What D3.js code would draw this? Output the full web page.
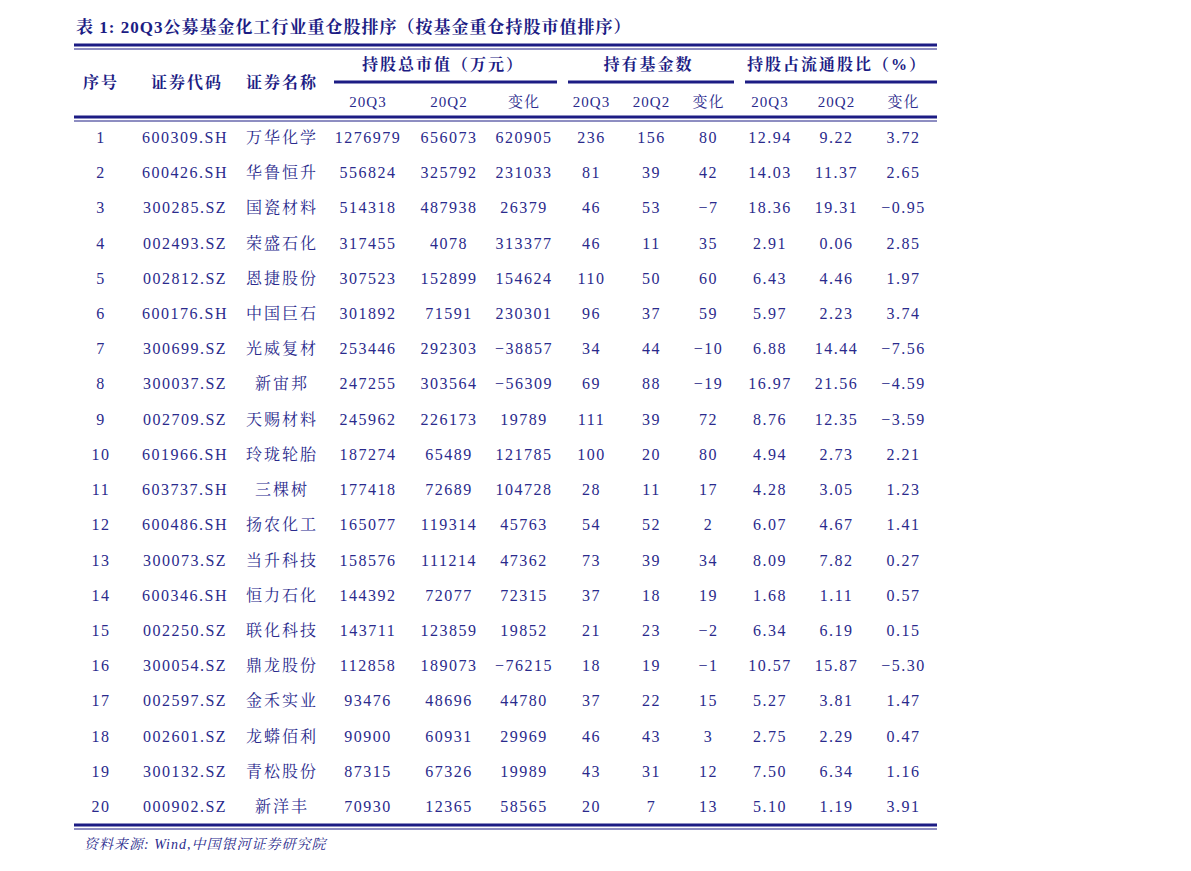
<!DOCTYPE html><html><head><meta charset="utf-8"><script src="https://cdn.jsdelivr.net/npm/d3@7"></script>
<style>body{margin:0;background:#fff}</style></head><body><svg id="c" width="1191" height="871"></svg>
<script>
const codes=["600309.SH","600426.SH","300285.SZ","002493.SZ","002812.SZ","600176.SH","300699.SZ","300037.SZ","002709.SZ","601966.SH","603737.SH","600486.SH","300073.SZ","600346.SH","002250.SZ","300054.SZ","002597.SZ","002601.SZ","300132.SZ","000902.SZ"];
const names=["万华化学","华鲁恒升","国瓷材料","荣盛石化","恩捷股份","中国巨石","光威复材","新宙邦","天赐材料","玲珑轮胎","三棵树","扬农化工","当升科技","恒力石化","联化科技","鼎龙股份","金禾实业","龙蟒佰利","青松股份","新洋丰"];
const mv3=[1276979,556824,514318,317455,307523,301892,253446,247255,245962,187274,177418,165077,158576,144392,143711,112858,93476,90900,87315,70930];
const mv2=[656073,325792,487938,4078,152899,71591,292303,303564,226173,65489,72689,119314,111214,72077,123859,189073,48696,60931,67326,12365];
const mvc=[620905,231033,26379,313377,154624,230301,-38857,-56309,19789,121785,104728,45763,47362,72315,19852,-76215,44780,29969,19989,58565];
const fn3=[236,81,46,46,110,96,34,69,111,100,28,54,73,37,21,18,37,46,43,20];
const fn2=[156,39,53,11,50,37,44,88,39,20,11,52,39,18,23,19,22,43,31,7];
const fnc=[80,42,-7,35,60,59,-10,-19,72,80,17,2,34,19,-2,-1,15,3,12,13];
const pc3=["12.94","14.03","18.36","2.91","6.43","5.97","6.88","16.97","8.76","4.94","4.28","6.07","8.09","1.68","6.34","10.57","5.27","2.75","7.50","5.10"];
const pc2=["9.22","11.37","19.31","0.06","4.46","2.23","14.44","21.56","12.35","2.73","3.05","4.67","7.82","1.11","6.19","15.87","3.81","2.29","6.34","1.19"];
const pcc=["3.72","2.65","-0.95","2.85","1.97","3.74","-7.56","-4.59","-3.59","2.21","1.23","1.41","0.27","0.57","0.15","-5.30","1.47","0.47","1.16","3.91"];
const groups=["持股总市值（万元）","持有基金数","持股占流通股比（%）"];
const subs=["20Q3","20Q2","变化"];
const C="#1c1c84",T="#2a2a8c";
const svg=d3.select("#c");
const edges=[74,128,238,326,410,488,560,623,680,737,803,870,937];
const cx=edges.slice(0,-1).map((e,i)=>(e+edges[i+1])/2);
const y=d3.scalePoint().domain(d3.range(20)).range([137,806]);
const font="'Liberation Serif','Noto Serif CJK SC','Noto Sans CJK SC',serif";
svg.append("text").attr("x",76).attr("y",33).attr("fill",C).attr("font-weight","bold").attr("font-size",17).attr("font-family",font).attr("letter-spacing",1).text("表 1: 20Q3公募基金化工行业重仓股排序（按基金重仓持股市值排序）");
function line(x1,x2,yy,w){svg.append("line").attr("x1",x1).attr("x2",x2).attr("y1",yy).attr("y2",yy).attr("stroke",C).attr("stroke-width",w);}
line(74,937,45,3);line(74,937,49,1);
line(74,937,117,3);line(74,937,121,1);
line(74,937,825,3);line(74,937,829,1);
[[3,6],[6,9],[9,12]].forEach((g,i)=>{line(edges[g[0]]+8,edges[g[1]]-(i<2?3:0),82,3);
 svg.append("text").attr("x",(edges[g[0]]+edges[g[1]])/2).attr("y",70).attr("text-anchor","middle").attr("fill",C).attr("font-weight","bold").attr("font-size",16).attr("font-family",font).attr("letter-spacing",2).text(groups[i]);
 subs.forEach((s,j)=>svg.append("text").attr("x",cx[g[0]+j]).attr("y",107).attr("text-anchor","middle").attr("fill",T).attr("font-size",15).attr("font-family",font).attr("letter-spacing",1).text(s));});
["序号","证券代码","证券名称"].forEach((s,i)=>svg.append("text").attr("x",cx[i]+(i==1?4:0)).attr("y",88).attr("text-anchor","middle").attr("fill",C).attr("font-weight","bold").attr("font-size",16).attr("font-family",font).attr("letter-spacing",2).text(s));
const cols=[d3.range(1,21),codes,names,mv3,mv2,mvc,fn3,fn2,fnc,pc3,pc2,pcc];
cols.forEach((col,ci)=>col.forEach((v,r)=>svg.append("text").attr("x",cx[ci]+(ci==1?2:0)).attr("y",y(r)+6).attr("text-anchor","middle").attr("fill",T).attr("font-size",16).attr("font-family",font).attr("letter-spacing",ci==2?2:1.5).text(typeof v==="number"&&v<0?"−"+(-v):String(v).replace("-","−"))));
svg.append("text").attr("x",84).attr("y",849).attr("fill",T).attr("font-style","italic").attr("font-size",14).attr("font-family",font).attr("letter-spacing",1).text("资料来源: Wind,中国银河证券研究院");
</script></body></html>
